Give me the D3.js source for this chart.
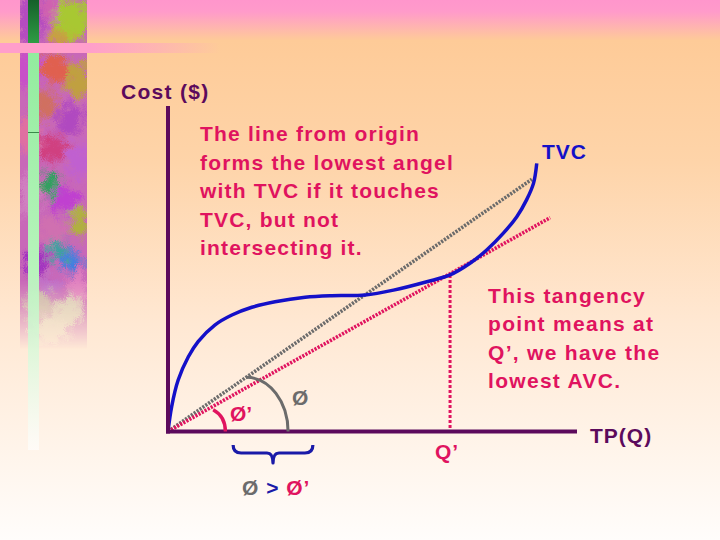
<!DOCTYPE html>
<html><head><meta charset="utf-8">
<script src="https://cdn.jsdelivr.net/npm/d3@7"></script>
<style>html,body{margin:0;padding:0;background:#fff;}svg{display:block}</style>
</head><body>
<script>
// ---- data (x = output Q, y = cost, both in 0..100 units) ----
const tvcQ    = [0, 0.9, 2.5, 5.0, 7.4, 11.5, 15.7, 20.6, 26.3, 33.7, 40.2, 48.4, 55.4, 63.6, 69.3, 74.2, 78.3, 82.4, 85.7, 88.1, 89.8, 90.6];
const tvcCost = [0, 7.7, 15.9, 23.1, 27.8, 32.9, 36.0, 38.4, 40.1, 41.5, 42.0, 42.2, 43.7, 46.3, 48.4, 52.0, 56.1, 61.3, 66.4, 71.6, 76.7, 82.9];
const tangentQ = [0, 93.9];      // lowest ray from origin (tangent to TVC)
const tangentCost = [0, 66.1];
const rayQ = [0, 89.4];          // steeper ray from origin
const rayCost = [0, 78.0];
const qPrime = 69.3;             // tangency output Q'
const qPrimeCost = 48.4;
const leftNote = ["The line from origin", "forms the lowest angel", "with TVC if it touches", "TVC, but not", "intersecting it."];
const rightNote = ["This tangency", "point means at", "Q\u2019, we have the", "lowest AVC."];
const yAxisLabel = "Cost ($)";
const xAxisLabel = "TP(Q)";
const curveLabel = "TVC";
const qLabel = "Q\u2019";

const W = 720, H = 540;
const PINK = "#e0135f", PURPLE = "#5c0a5c", BLUE = "#1410c8", GRAY = "#6b6b6b", NAVY = "#1a1aa8";
const FONT = "Liberation Sans, Arial, Helvetica, sans-serif";

const svg = d3.select("body").append("svg").attr("width", W).attr("height", H);
const defs = svg.append("defs");

// background gradient
const bg = defs.append("linearGradient").attr("id", "bg").attr("x1", 0).attr("y1", 0).attr("x2", 0).attr("y2", 1);
[[0, "#ff96cc"], [0.022, "#ff9bca"], [0.075, "#fecb98"], [0.3, "#fed4a9"], [0.6, "#ffe8d3"], [1, "#fffdfb"]]
  .forEach(([o, c]) => bg.append("stop").attr("offset", o).attr("stop-color", c));
svg.append("rect").attr("width", W).attr("height", H).attr("fill", "url(#bg)");

// ---- decorative left strip ----
const stripFade = defs.append("linearGradient").attr("id", "stripFade").attr("gradientUnits", "userSpaceOnUse")
  .attr("x1", 0).attr("y1", 0).attr("x2", 0).attr("y2", 360);
[[0, 1], [0.78, 1], [0.97, 0]].forEach(([o, a]) => stripFade.append("stop").attr("offset", o).attr("stop-color", "#fff").attr("stop-opacity", a));
defs.append("mask").attr("id", "stripMask").append("rect").attr("x", 0).attr("y", 0).attr("width", 120).attr("height", 360).attr("fill", "url(#stripFade)");
const tex = defs.append("filter").attr("id", "tex").attr("x", 0).attr("y", 0).attr("width", 1).attr("height", 1);
tex.append("feGaussianBlur").attr("in", "SourceGraphic").attr("stdDeviation", 3).attr("result", "b");
tex.append("feTurbulence").attr("type", "fractalNoise").attr("baseFrequency", 0.12).attr("numOctaves", 3).attr("seed", 4).attr("result", "n");
tex.append("feDisplacementMap").attr("in", "b").attr("in2", "n").attr("scale", 22).attr("xChannelSelector", "R").attr("yChannelSelector", "G").attr("result", "d1");
tex.append("feTurbulence").attr("type", "fractalNoise").attr("baseFrequency", 0.9).attr("numOctaves", 1).attr("seed", 9).attr("result", "n2");
tex.append("feDisplacementMap").attr("in", "d1").attr("in2", "n2").attr("scale", 10).attr("xChannelSelector", "R").attr("yChannelSelector", "G");
defs.append("clipPath").attr("id", "stripClip").append("rect").attr("x", 20).attr("y", 0).attr("width", 67).attr("height", 360);

const blobs = [
  [30, 20, 14, 24, "#b44cc0"], [72, 20, 18, 22, "#a8c830"], [48, 8, 10, 12, "#d060b0"], [60, 38, 12, 8, "#c8a040"],
  [28, 70, 12, 20, "#c850c8"], [55, 68, 14, 16, "#e06050"], [78, 80, 12, 18, "#c0a040"],
  [45, 105, 12, 16, "#d07060"], [70, 120, 14, 16, "#b048c0"], [28, 135, 12, 18, "#e070a0"],
  [52, 148, 14, 14, "#d04080"], [78, 160, 12, 18, "#c060d0"], [50, 185, 12, 12, "#30a060"],
  [28, 195, 12, 20, "#d080c0"], [65, 200, 14, 14, "#c040d0"], [80, 222, 10, 16, "#b0b040"],
  [52, 230, 14, 14, "#d070b0"], [72, 262, 10, 10, "#4080e0"], [58, 250, 10, 10, "#40a0a0"],
  [36, 262, 12, 14, "#a030c0"], [78, 288, 10, 14, "#e080c0"], [50, 285, 12, 10, "#c070c8"],
  [38, 305, 14, 14, "#c8b8a8"], [68, 312, 16, 14, "#d8d0b8"], [50, 332, 18, 14, "#e0d8c0"]
];
const strip = svg.append("g").attr("clip-path", "url(#stripClip)").attr("mask", "url(#stripMask)");
strip.append("rect").attr("x", 20).attr("y", 0).attr("width", 67).attr("height", 360).attr("fill", "#c868b8");
strip.append("g").attr("filter", "url(#tex)").selectAll("ellipse").data(blobs).join("ellipse")
  .attr("cx", d => d[0]).attr("cy", d => d[1]).attr("rx", d => d[2]).attr("ry", d => d[3]).attr("fill", d => d[4]);

// pink horizontal band
const band = defs.append("linearGradient").attr("id", "band").attr("x1", 0).attr("x2", 1).attr("y1", 0).attr("y2", 0);
[[0, 1], [0.4, 1], [1, 0]].forEach(([o, a]) => band.append("stop").attr("offset", o).attr("stop-color", "#ff9ecb").attr("stop-opacity", a));
svg.append("rect").attr("x", 0).attr("y", 43).attr("width", 220).attr("height", 10).attr("fill", "url(#band)");

// green vertical bar
const gTop = defs.append("linearGradient").attr("id", "gTop").attr("x1", 0).attr("x2", 0).attr("y1", 0).attr("y2", 1);
[[0, "#16602a"], [1, "#2e9c44"]].forEach(([o, c]) => gTop.append("stop").attr("offset", o).attr("stop-color", c));
const gBot = defs.append("linearGradient").attr("id", "gBot").attr("x1", 0).attr("x2", 0).attr("y1", 0).attr("y2", 1);
[[0, "#92ec9e", 1], [0.55, "#b8f4bc", 1], [1, "#ffffff", 0.6]].forEach(([o, c, a]) => gBot.append("stop").attr("offset", o).attr("stop-color", c).attr("stop-opacity", a));
svg.append("rect").attr("x", 28).attr("y", 0).attr("width", 11).attr("height", 43).attr("fill", "url(#gTop)");
svg.append("rect").attr("x", 28).attr("y", 53).attr("width", 11).attr("height", 397).attr("fill", "url(#gBot)");
svg.append("rect").attr("x", 28).attr("y", 132).attr("width", 11).attr("height", 1).attr("fill", "#3a8a4a");

// ---- chart ----
const x = d3.scaleLinear().domain([0, 100]).range([168, 575]);
const y = d3.scaleLinear().domain([0, 100]).range([431.5, 108]);

const line = d3.line().x(d => x(d[0])).y(d => y(d[1]));

// rays from origin (beaded dotted lines)
svg.append("path").datum(d3.zip(rayQ, rayCost)).attr("d", line)
  .attr("fill", "none").attr("stroke", GRAY).attr("stroke-width", 3.6).attr("stroke-dasharray", "2.2 1.3");
svg.append("path").datum(d3.zip(tangentQ, tangentCost)).attr("d", line)
  .attr("fill", "none").attr("stroke", PINK).attr("stroke-width", 3.6).attr("stroke-dasharray", "2.2 1.3");

// vertical dotted at Q'
svg.append("path").datum([[qPrime, qPrimeCost], [qPrime, 0]]).attr("d", line)
  .attr("fill", "none").attr("stroke", PINK).attr("stroke-width", 3).attr("stroke-dasharray", "3 2");

// TVC curve
svg.append("path").datum(d3.zip(tvcQ, tvcCost))
  .attr("d", d3.line().x(d => x(d[0])).y(d => y(d[1])).curve(d3.curveCatmullRom.alpha(0.5)))
  .attr("fill", "none").attr("stroke", BLUE).attr("stroke-width", 3.5);

// axes
const xAxis = svg.append("g").attr("transform", `translate(0,${y(0)})`)
  .call(d3.axisBottom(x).ticks(0).tickSizeOuter(0));
const yAxis = svg.append("g").attr("transform", `translate(${x(0)},0)`)
  .call(d3.axisLeft(y).ticks(0).tickSizeOuter(0));
[xAxis, yAxis].forEach(a => a.select(".domain").attr("stroke", PURPLE).attr("stroke-width", 4).attr("stroke-linecap", "square"));
xAxis.select(".domain").attr("d", `M${x(0)},0H${x(100)}`);
yAxis.select(".domain").attr("d", `M0,${y(100)}V${y(0)}`);

// angle arcs
const rs = rayCost[1] / rayQ[1];
const gp = d3.path();
gp.moveTo(x(19.2), y(19.2 * rs));
gp.bezierCurveTo(x(25.0), y(19.2 * rs), x(29.5), y(9.1), x(29.5), y(0));
svg.append("path").attr("d", gp.toString()).attr("fill", "none").attr("stroke", GRAY).attr("stroke-width", 3);
const pp = d3.path();
pp.moveTo(x(11.1), y(6.7));
pp.bezierCurveTo(x(13.0), y(5.4), x(14.1), y(3.2), x(14.1), y(0));
svg.append("path").attr("d", pp.toString()).attr("fill", "none").attr("stroke", PINK).attr("stroke-width", 3.4);

// brace under the angles
const bl = x(16), br = x(35.6), bm = (bl + br) / 2, bt = 445, bb = 453, btip = 463;
const bp = d3.path();
bp.moveTo(bl, bt);
bp.quadraticCurveTo(bl, bb, bl + 8, bb);
bp.lineTo(bm - 6, bb);
bp.quadraticCurveTo(bm, bb, bm, btip);
bp.quadraticCurveTo(bm, bb, bm + 6, bb);
bp.lineTo(br - 8, bb);
bp.quadraticCurveTo(br, bb, br, bt);
svg.append("path").attr("d", bp.toString()).attr("fill", "none").attr("stroke", NAVY).attr("stroke-width", 3.2).attr("stroke-linejoin", "round");

// ---- texts ----
const txt = (s, xx, yy, col, size, weight, ls) => svg.append("text").attr("x", xx).attr("y", yy)
  .attr("fill", col).attr("font-family", FONT).attr("font-size", size).attr("font-weight", weight)
  .attr("letter-spacing", ls).text(s);

txt(yAxisLabel, 121, 99, PURPLE, 21, "bold", 1.3);
leftNote.forEach((s, i) => txt(s, 200, 141 + i * 28.6, PINK, 21, "bold", 1.2));
rightNote.forEach((s, i) => txt(s, 488, 303 + i * 28.4, PINK, 21, "bold", 1.3));
txt(curveLabel, 542, 159, BLUE, 21, "bold", 1);
txt(xAxisLabel, 590, 443, PURPLE, 21, "bold", 1);
txt(qLabel, 435, 459, PINK, 21, "bold", 1);

txt("\u00d8\u2019", 230, 421, PINK, 21, "bold", 0);
txt("\u00d8", 292, 405, GRAY, 21, "bold", 0);
const cmp = svg.append("text").attr("x", 242).attr("y", 495).attr("font-family", FONT).attr("font-size", 21)
  .attr("font-weight", "bold").attr("letter-spacing", 1);
cmp.append("tspan").attr("fill", GRAY).text("\u00d8 ");
cmp.append("tspan").attr("fill", NAVY).text("> ");
cmp.append("tspan").attr("fill", PINK).text("\u00d8\u2019");
</script>
</body></html>
